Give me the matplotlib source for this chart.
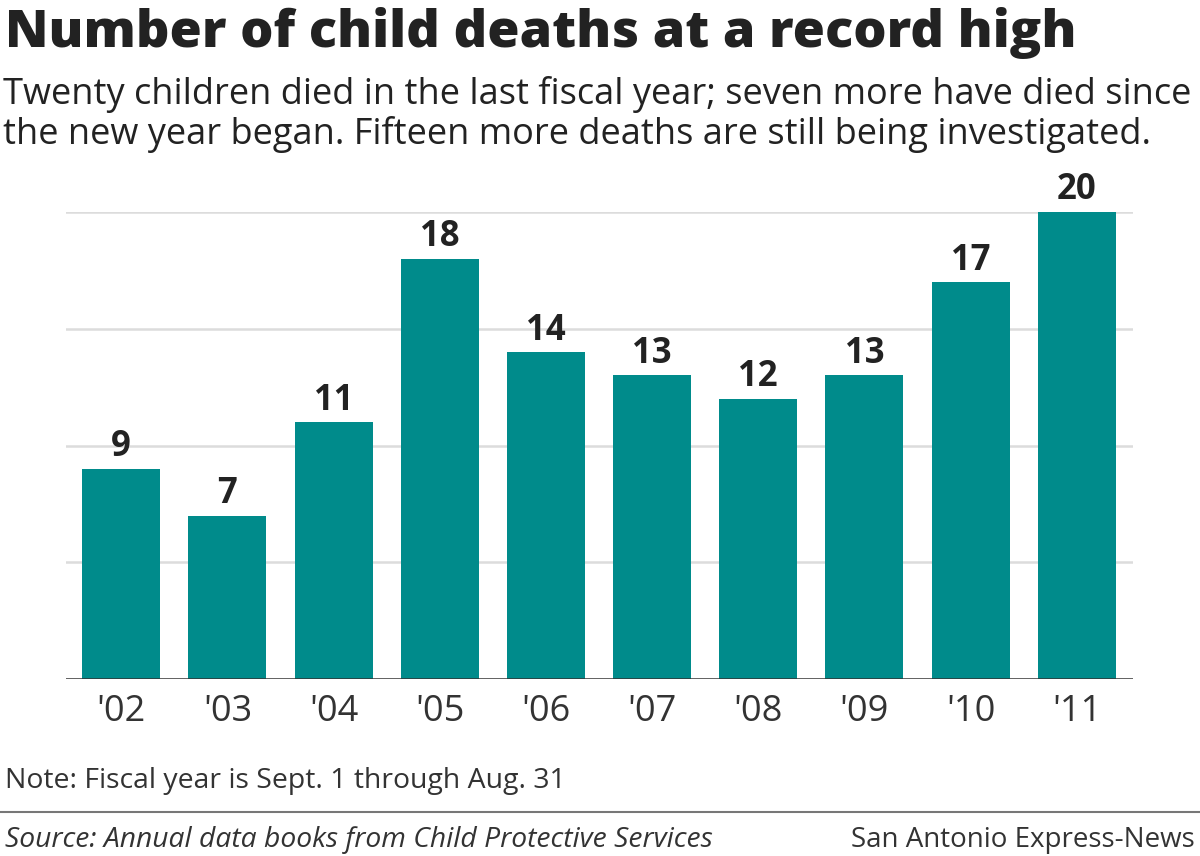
import matplotlib
matplotlib.use("Agg")
import matplotlib.pyplot as plt

years = ["'02", "'03", "'04", "'05", "'06", "'07", "'08", "'09", "'10", "'11"]
deaths = [9, 7, 11, 18, 14, 13, 12, 13, 17, 20]
grid_vals = [5, 10, 15, 20]

FONT = "Open Sans"
fig = plt.figure(figsize=(12, 8.56), dpi=100)
ax = fig.add_axes([66/1200, 1-679/856, (1133-66)/1200, (679-212)/856])

x = range(len(years))
ax.bar(x, deaths, width=0.735, color="#008b8b", zorder=2)
for v in grid_vals:
    ax.axhline(v, color="#dcdcdc", lw=1.8, zorder=1)
ax.axhline(0, color="#333333", lw=1.8, zorder=3)
for i, v in enumerate(deaths):
    ax.text(i, v + 0.15, str(v), ha="center", va="bottom", fontsize=25,
            fontweight="bold", family=FONT, color="#222222", clip_on=False)

ax.set_xlim(-0.52, 9.53)
ax.set_ylim(0, 20)
ax.set_xticks(list(x))
ax.set_xticklabels(years, fontsize=26, family=FONT, color="#333333")
ax.tick_params(axis="x", length=0, pad=11)
ax.set_yticks([])
for s in ax.spines.values():
    s.set_visible(False)

fig.text(5/1200, 1-47/856, "Number of child deaths at a record high", fontsize=37.6,
         fontweight="heavy", family=FONT, color="#222222", va="baseline")
fig.text(3/1200, 1-104/856, "Twenty children died in the last fiscal year; seven more have died since",
         fontsize=26, family=FONT, color="#222222", va="baseline")
fig.text(3/1200, 1-144/856, "the new year began. Fifteen more deaths are still being investigated.",
         fontsize=26, family=FONT, color="#222222", va="baseline")
fig.text(5/1200, 1-788/856, "Note: Fiscal year is Sept. 1 through Aug. 31", fontsize=20.4,
         family=FONT, color="#333333", va="baseline")
fig.add_artist(plt.Line2D([0, 1], [1-812/856, 1-812/856], color="#777777", lw=1.5))
fig.text(5/1200, 1-847/856, "Source: Annual data books from Child Protective Services", fontsize=20.3,
         family=FONT, style="italic", color="#333333", va="baseline")
fig.text(1195/1200, 1-847/856, "San Antonio Express-News", fontsize=20,
         family=FONT, color="#333333", va="baseline", ha="right")

fig.savefig("out.png", dpi=100)
